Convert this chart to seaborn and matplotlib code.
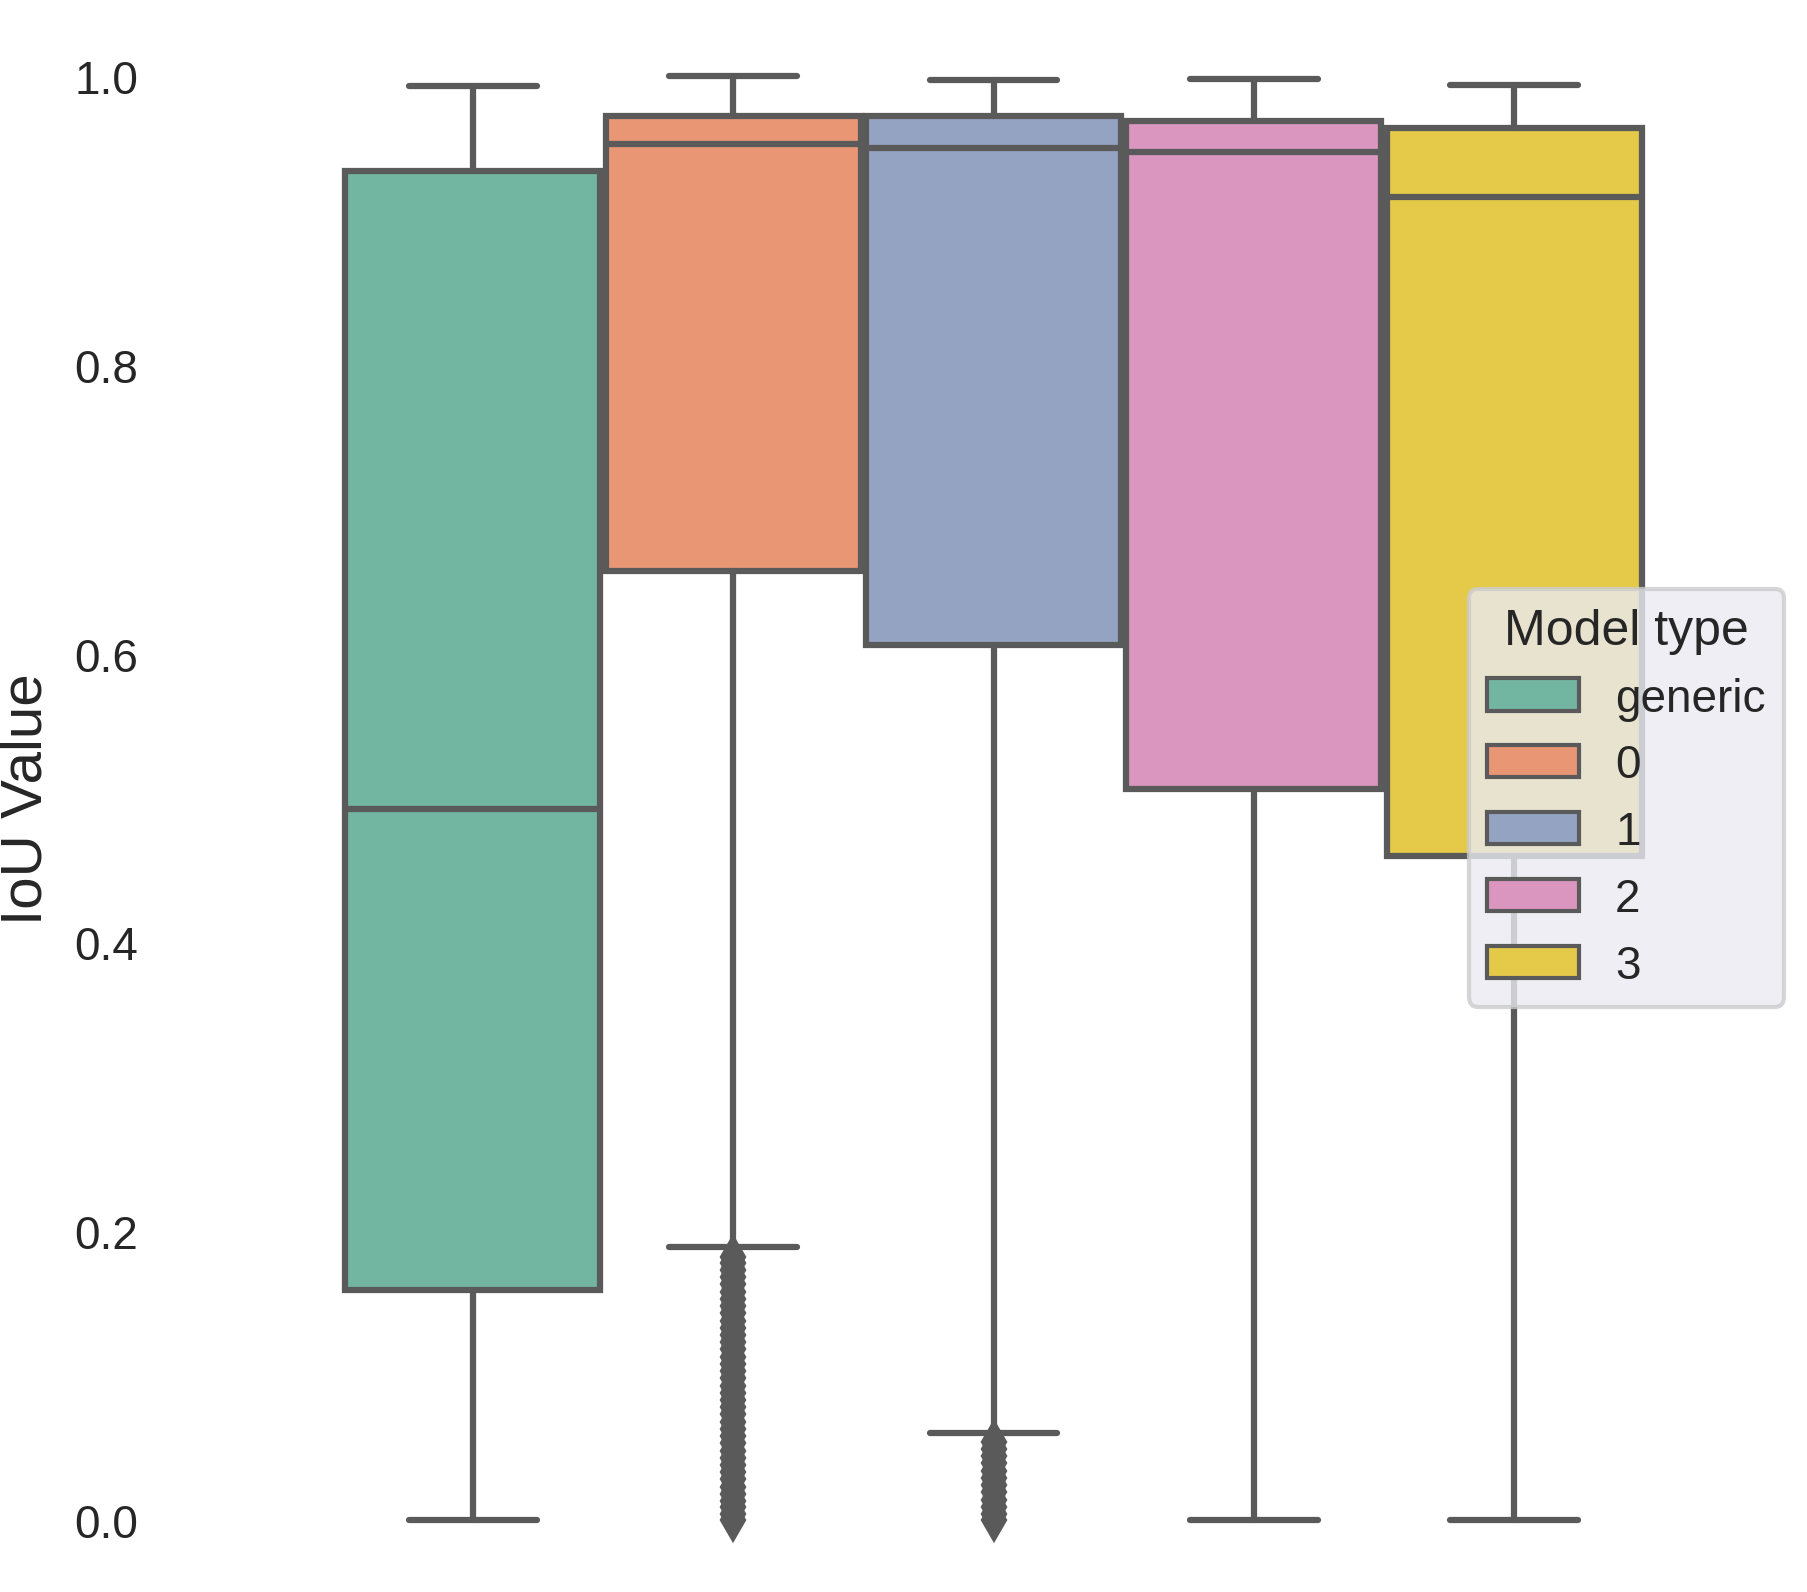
import pandas as pd
import matplotlib.pyplot as plt
import seaborn as sns

# groups shown in the legend
model_types = ["generic", "0", "1", "2", "3"]

# box summary: lower whisker, Q1, median, Q3, upper whisker
whisker_low = [0.0, 0.189, 0.060, 0.0, 0.0]
q1 = [0.159, 0.657, 0.606, 0.506, 0.460]
median = [0.492, 0.953, 0.950, 0.947, 0.916]
q3 = [0.934, 0.972, 0.972, 0.969, 0.964]
whisker_high = [0.993, 1.0, 0.997, 0.998, 0.994]

# outlier diamonds below the lower whisker
outliers_0 = [0.0, 0.004, 0.009, 0.013, 0.018, 0.023, 0.028, 0.033, 0.038, 0.043,
              0.048, 0.053, 0.058, 0.063, 0.068, 0.073, 0.078, 0.083, 0.088, 0.093,
              0.098, 0.103, 0.108, 0.113, 0.118, 0.123, 0.128, 0.133, 0.138, 0.143,
              0.148, 0.153, 0.158, 0.163, 0.168, 0.173, 0.178, 0.182]
outliers_1 = [0.0, 0.004, 0.009, 0.014, 0.019, 0.024, 0.029, 0.034, 0.039, 0.044,
              0.049, 0.054]
outliers = {"0": outliers_0, "1": outliers_1}


def box_values(lo, a, m, b, hi, fl):
    # sample whose quartiles land exactly on the read values
    n = len(fl) + 1
    return list(fl) + [lo] + [a] * n + [m] * n + [b] * n + [hi]


rows = []
for i, name in enumerate(model_types):
    vals = box_values(whisker_low[i], q1[i], median[i], q3[i], whisker_high[i],
                      outliers.get(name, []))
    rows += [(name, v) for v in vals]
df = pd.DataFrame(rows, columns=["Model type", "IoU"])

sns.set_theme(style="white", context="notebook")
plt.rcParams["font.family"] = ["Liberation Sans", "DejaVu Sans"]

set2 = sns.color_palette("Set2")
colors = [set2[0], set2[1], set2[2], set2[3], set2[5]]

fig = plt.figure(figsize=(1807 / 300, 1593 / 300), dpi=300)
ax = fig.add_axes([180 / 1807, 0.0, 1627 / 1807, 0.997])

line_col = "#5a5a5a"
sns.boxplot(data=df, y="IoU", hue="Model type", hue_order=model_types,
            palette=colors, gap=0.02, linewidth=1.5, linecolor=line_col,
            fliersize=6.5, ax=ax,
            whiskerprops=dict(solid_capstyle="round"),
            capprops=dict(solid_capstyle="round"),
            flierprops=dict(marker="d", markerfacecolor=line_col,
                            markeredgecolor=line_col))

ax.set_ylim(-0.05, 1.05)
ax.set_xlabel("")
ax.set_ylabel("IoU Value", fontsize=14, labelpad=5)
ax.set_xticks([])
ax.tick_params(axis="y", labelsize=11, length=0, pad=10)
sns.despine(left=True, bottom=True)

sns.move_legend(ax, "center right", title="Model type", fontsize=11,
                title_fontsize=12, frameon=True, facecolor="#EAEAF2",
                edgecolor="0.8", framealpha=0.8)
for h in ax.get_legend().get_patches():
    h.set_linewidth(1.0)

fig.savefig("out.png", dpi=300)
